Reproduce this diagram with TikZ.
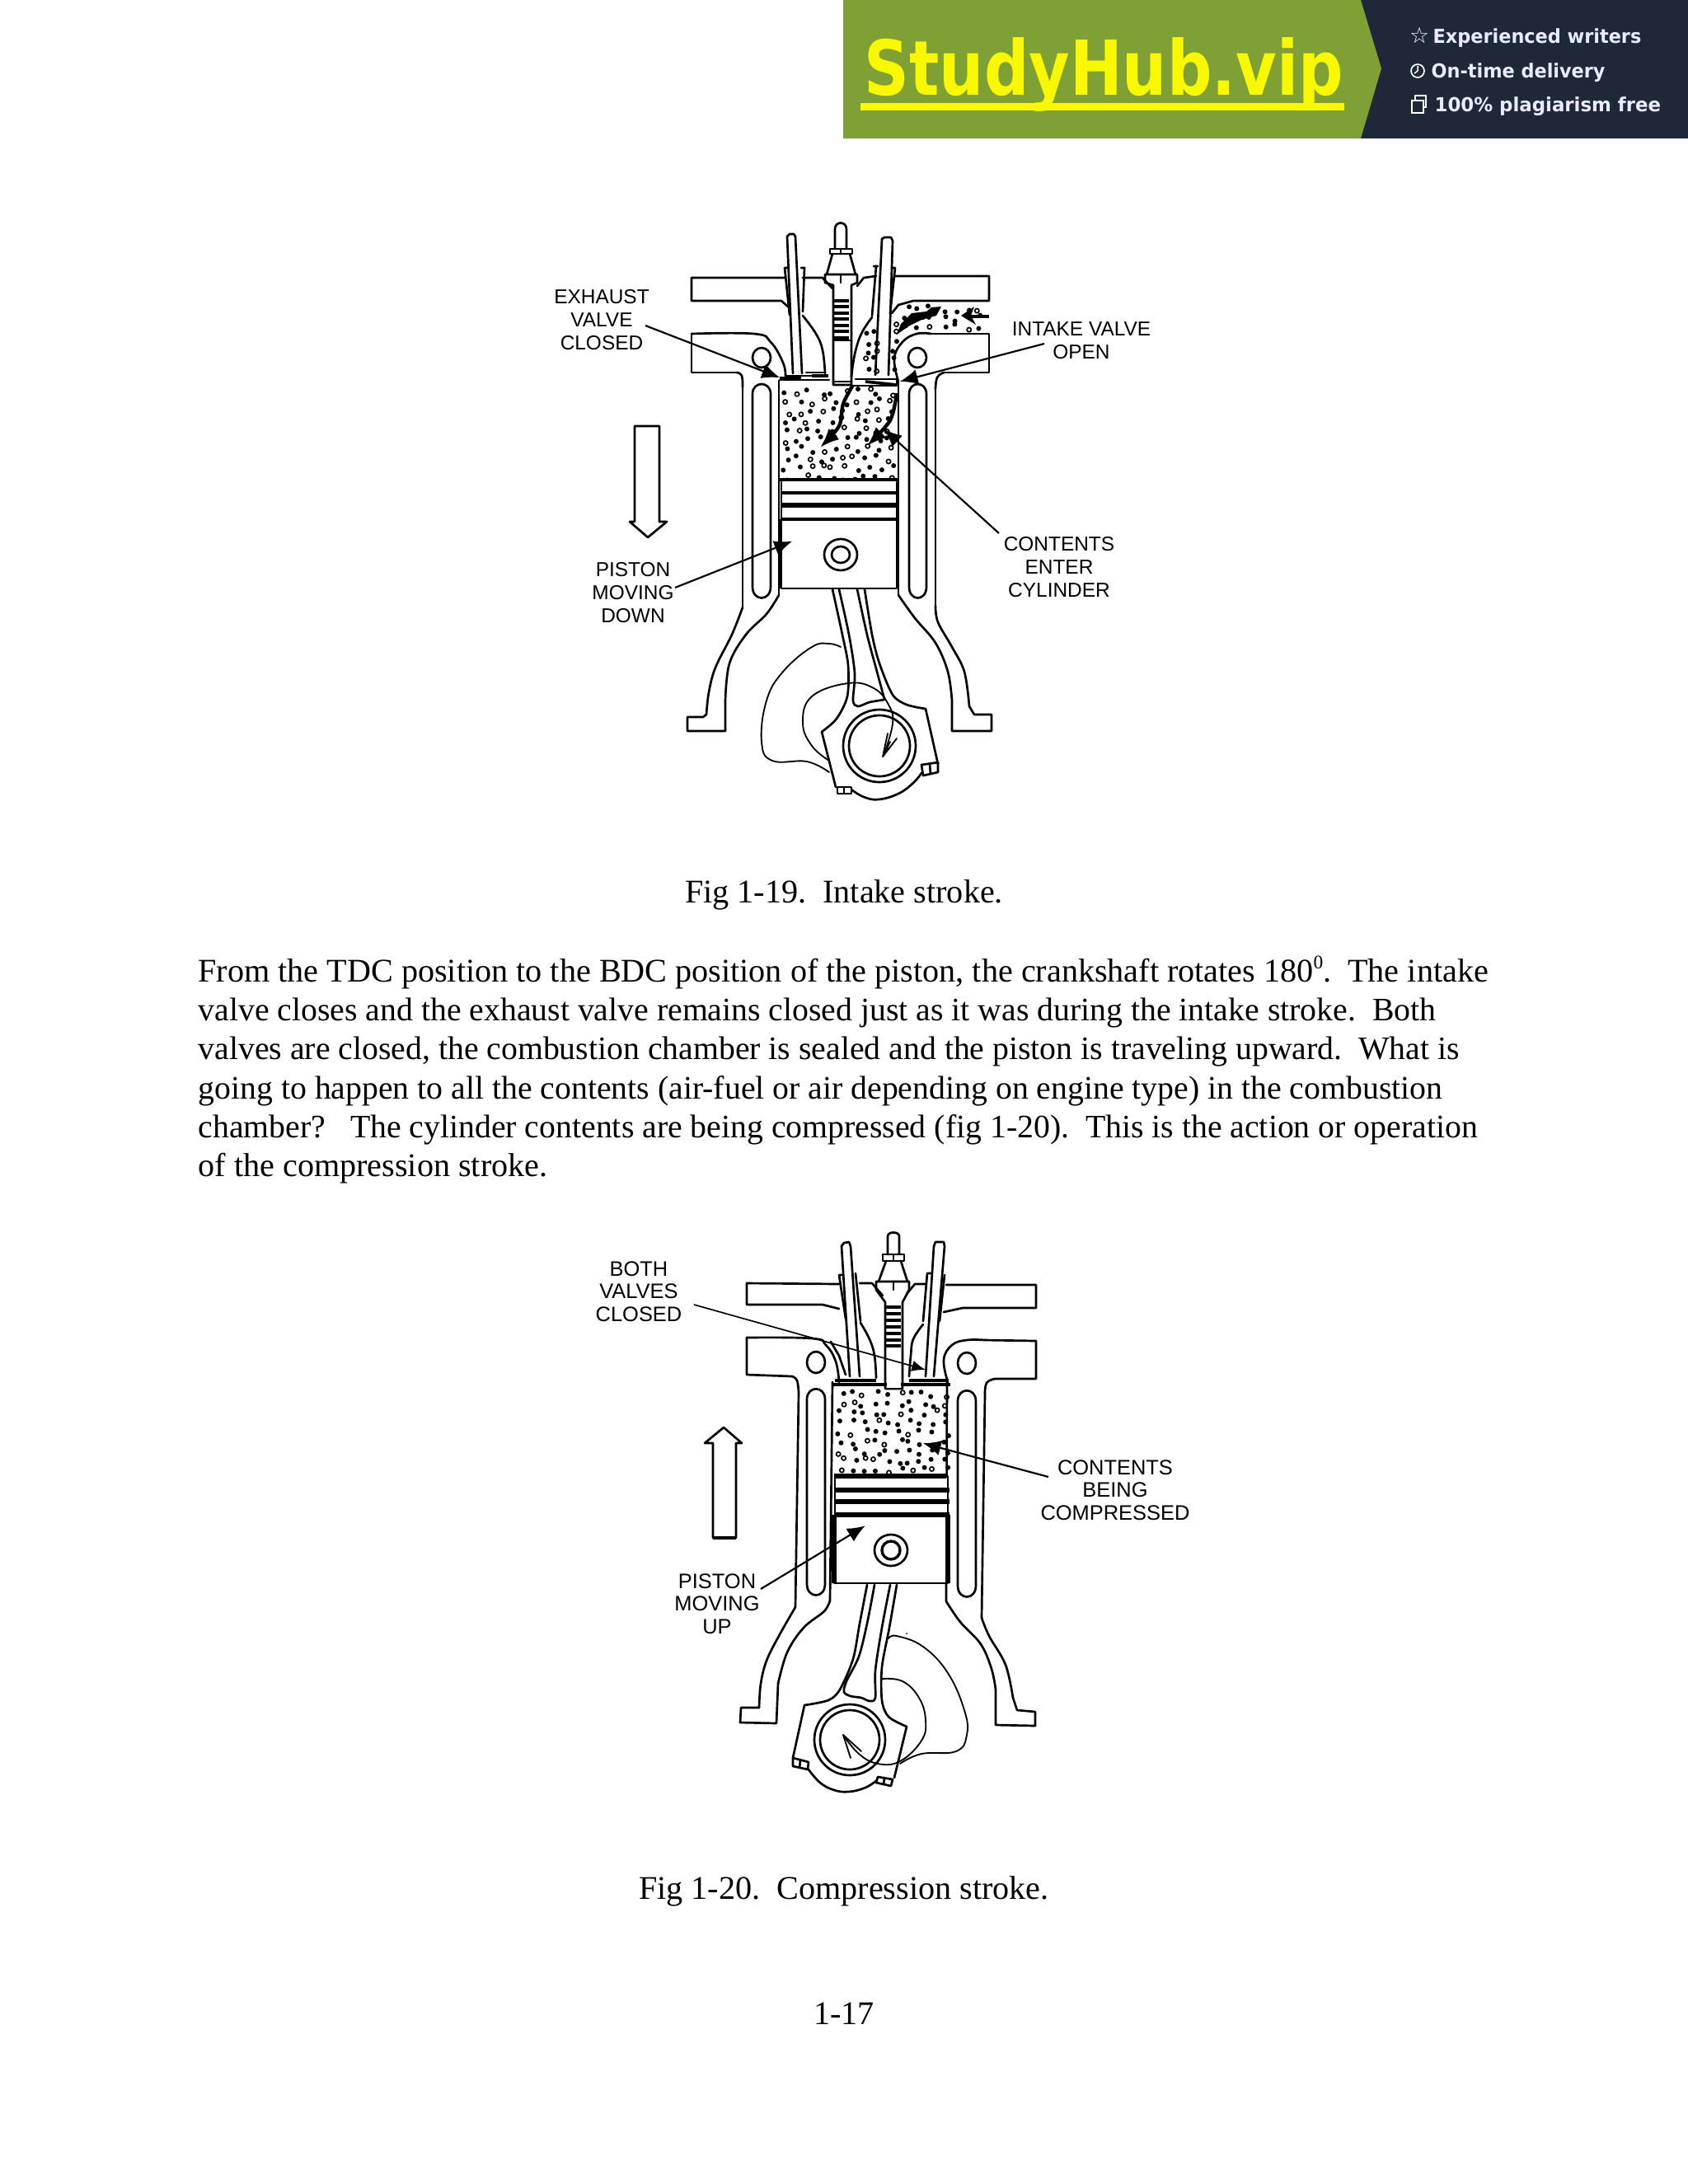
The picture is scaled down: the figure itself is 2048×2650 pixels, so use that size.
\documentclass[tikz,border=0pt]{standalone}
\usepackage{fontspec}
\usepackage{graphicx}
\setmainfont{Liberation Serif}
\newfontfamily\lblfont{Liberation Sans}
\newfontfamily\banfont{DejaVu Sans}
\usetikzlibrary{arrows.meta}
\tikzset{
 engl/.style={line width=.8pt,line join=round,line cap=round},
 engt/.style={line width=.55pt,line join=round,line cap=round},
 callout/.style={line width=.65pt,-{Latex[length=6.5pt,width=5.5pt]},shorten >=-1pt},
 smallcallout/.style={line width=.5pt,-{Latex[length=5pt,width=4pt]}},
 flow/.style={line width=1.3pt,-{Latex[length=7pt,width=5.5pt]}},
 lbl/.style={font=\lblfont\fontsize{7.6}{8.3}\selectfont,align=center,inner sep=0pt},
 lblb/.style={font=\lblfont\fontsize{7.3}{8.3}\selectfont,align=center,inner sep=0pt},
 bodyline/.style={anchor=base west,inner sep=0pt,font=\fontsize{11.88}{14}\selectfont},
 bodywide/.style={anchor=base west,inner sep=0pt,font=\fontsize{12}{14}\selectfont},
 captext/.style={anchor=base,inner sep=0pt,font=\fontsize{12}{14}\selectfont},
 bantxt/.style={anchor=base west,inner sep=0pt,text=white!92!blue,font=\banfont\bfseries\fontsize{7}{8}\selectfont},
}
\newcommand\dotfield[6]{\foreach \i in {1,...,#3}{\foreach \j in {1,...,#4}{%
 \pgfmathsetmacro\mydx{#1+(\i-1+rnd*.7)*#5}\pgfmathsetmacro\mydy{#2+(\j-1+rnd*.7)*#6}%
 \pgfmathparse{rnd}\ifdim\pgfmathresult pt<.3pt \draw[line width=.5pt] (\mydx,\mydy) circle[radius=2.6];\else \fill (\mydx,\mydy) circle[radius=3];\fi}}}
\begin{document}
\begin{tikzpicture}[x=0.29883pt,y=-0.29883pt]
\useasboundingbox (0,0) rectangle (2048,2650);
\fill[white] (0,0) rectangle (2048,2650);
\pgfmathsetseed{19}
%---------- banner
\fill[fill={rgb,255:red,30;green,40;blue,57}] (1640,0) rectangle (2048,168);
\fill[fill={rgb,255:red,127;green,160;blue,53}] (1023,0)--(1651,0)--(1676,83)--(1651,168)--(1023,168)--cycle;
\node[anchor=base west,inner sep=0pt,text={rgb,255:red,248;green,248;blue,0}] (brand) at (1048,115) {\resizebox{173.6pt}{20.9pt}{\banfont\bfseries StudyHub.vip}};
\fill[fill={rgb,255:red,248;green,248;blue,0}] (1044,125) rectangle (1631,134);
\node[bantxt] (w1) at (1738,52) {\resizebox{75.5pt}{\height}{Experienced writers}};
\node[bantxt] (w2) at (1736,94) {\resizebox{63pt}{\height}{On-time delivery}};
\node[bantxt] (w3) at (1740,135) {\resizebox{82pt}{\height}{100\% plagiarism free}};
\node[anchor=center,inner sep=0pt,text=white,font=\banfont\fontsize{8}{8}\selectfont] (star) at (1722,43) {☆};
\draw[white,line width=.5pt] (1720,86) circle[radius=8];
\draw[white,line width=.45pt] (1720,86)--(1720,80) (1720,86)--(1716,89);
\draw[white,line width=.45pt] (1713,122) rectangle (1727,137) (1717,122)--(1717,116)--(1730,116)--(1730,130)--(1727,130);
%========== FIG 1
% head
\draw[engl] (953,337)--(839,337)--(839,365)--(948,365)--(956,372);
\draw[engl] (974,337)--(998,337)--(1010,350);
\draw[engl] (1040,347)--(1048,337)--(1063,335);
\draw[engl] (1086,335)--(1200,335)--(1200,365)--(1108,365)--(1090,370)--(1082,380);
\draw[engl] (839,405)--(839,452)--(894,452);
\draw[engl] plot[smooth,tension=.7] coordinates {(894,452)(900,456)(901,470)};
\draw[engl] plot[smooth,tension=.7] coordinates {(839,405)(915,405)(935,415)(950,440)(953,456)};
\draw[engl] plot[smooth,tension=.7] coordinates {(1090,463)(1085,435)(1095,415)(1112,405)(1130,405)};
\draw[engl] (1130,405)--(1200,405)--(1200,452)--(1145,452);
\draw[engl] plot[smooth,tension=.7] coordinates {(1145,452)(1137,458)(1135,472)};
% walls
\draw[engl] (901,470)--(901,737);
\draw[engl] plot[smooth,tension=.6] coordinates {(901,737)(888,770)(868,810)(860,840)(857,867)};
\draw[engl] (857,867)--(853,870)--(834,870)--(834,887)--(880,887)--(880,850);
\draw[engl] plot[smooth,tension=.6] coordinates {(880,850)(885,805)(905,770)(930,745)(945,722)};
\draw[engl] (945,722)--(945,462);
\draw[engl] (1090,464)--(1090,722);
\draw[engl] plot[smooth,tension=.6] coordinates {(1090,722)(1110,750)(1135,780)(1150,815)(1155,850)};
\draw[engl] (1155,850)--(1155,887)--(1203,887)--(1203,867)--(1182,867)--(1176,857);
\draw[engl] plot[smooth,tension=.6] coordinates {(1176,857)(1170,815)(1155,785)(1138,755)(1135,735)};
\draw[engl] (1135,735)--(1135,472);
% slots
\draw[engl] (913,478)--(913,712) .. controls (913,730) and (935,730) .. (935,712)--(935,478) .. controls (935,462) and (913,462) .. (913,478)--cycle;
\draw[engl] (1103,478)--(1103,712) .. controls (1103,730) and (1124,730) .. (1124,712)--(1124,478) .. controls (1124,462) and (1103,462) .. (1103,478)--cycle;
% holes
\draw[engl] (924,434) circle[x radius=11,y radius=12];
\draw[engl] (1113,434) circle[x radius=11,y radius=12];
% charge
\dotfield{949}{472}{10}{10}{14}{11.5}
\dotfield{1097}{371}{7}{3}{14}{11}
\dotfield{1050}{400}{2}{5}{9}{11}
\dotfield{1083}{388}{1}{6}{8}{11}
% valves
\draw[engl] (953,456) -- (1001,456) (946,461)--(1006,461);
\draw[engl] (955,287)--(958,284)--(963,284)--(965,287)--(973,453);
\draw[engl] (955,287)--(962,453);
\draw[engl] (952,325)--(958,382) (952,325)--(955,325) (972,325)--(976,325)--(974,378);
\draw[engl] plot[smooth,tension=.7] coordinates {(974,383)(990,405)(998,425)(1001,453)};
\draw[engl] (978,452)--(1001,452);
\draw[line width=1.2pt] (946,459)--(972,459) (985,456)--(1005,456);
\draw[engl] (1070,290)--(1073,288)--(1081,288)--(1083,292)--(1078,455);
\draw[engl] (1070,290)--(1062,455);
\draw[engl] (1063,323)--(1058,383) (1086,325)--(1080,380) (1060,323)--(1065,323) (1086,325)--(1082,325);
\draw[engl] plot[smooth,tension=.7] coordinates {(1058,385)(1045,405)(1037,430)(1033,457)};
\draw[engl] (1038,460)--(1088,460) (1036,468)--(1088,468)--(1088,460);
\draw[line width=1.1pt] (1050,463)--(1088,467);
% spark plug
\draw[engl] (1013,302)--(1013,278) .. controls (1013,268) and (1027,268) .. (1027,278)--(1027,302);
\draw[engl] (1007,302) rectangle (1034,308) (1020,302)--(1020,308);
\draw[engl] (1010,308)--(1003,333) (1031,308)--(1038,333);
\draw[engl] (1001,333)--(1040,333)--(1040,343)--(1033,346)--(1033,467)--(1011,467)--(1011,346)--(1001,343)--cycle;
\draw[engl] (1020,333)--(1020,343);
\foreach \yy in {365,372,380,387,395,402,410}{\draw[line width=1pt] (1011,\yy)--(1030,\yy);}
\draw[engl] (1011,413)--(1033,413) (1011,463)--(1033,463);
% flow in the port
\fill (1142,372)--(1136,383)--(1118,388)--(1102,396)--(1088,406)--(1093,393)--(1106,380)--(1124,378)--(1130,373)--cycle;
\draw[line width=1.4pt] (1200,384)--(1172,384);
\fill (1166,383)--(1182,372)--(1178,383)--(1184,394)--cycle;
% piston
\fill[white] (950,584) rectangle (1086,712);
\draw[line width=1.2pt] (944,582)--(1090,582);
\draw[engl] (948,585)--(948,714)--(1088,714)--(1088,585);
\draw[line width=1.2pt] (948,598)--(1088,598);
\draw[line width=1.8pt] (948,613)--(1088,613);
\draw[line width=1.4pt] (948,630)--(1088,630);
\draw[line width=1.3pt] (946,630)--(946,714);
\draw[engl] (1020,673) circle[x radius=20,y radius=19];
\draw[engl] (1020,673) circle[x radius=11,y radius=10];
% rod
\draw[engl] plot[smooth,tension=.5] coordinates {(1010,715)(1022,770)(1029,807)(1028,845)(1015,872)(997,888)};
\draw[engl] plot[smooth,tension=.5] coordinates {(1018,715)(1030,770)(1037,817)(1035,850)(1041,857)(1055,852)(1073,849)};
\draw[engl] plot[smooth,tension=.5] coordinates {(1040,715)(1052,770)(1064,815)(1073,848)};
\draw[engl] plot[smooth,tension=.5] coordinates {(1049,715)(1058,770)(1067,805)(1083,843)(1100,855)(1123,860)};
% big end
\draw[engl] (997,888)--(1014,955);
\draw[engl] (1123,860)--(1138,927);
\draw[engl] (1016,955) rectangle (1033,963) (1024,955)--(1024,963);
\draw[engl] (1118,928)--(1138,925)--(1138,937)--(1120,941)--cycle (1128,927)--(1129,939);
\draw[engl] plot[smooth,tension=.7] coordinates {(1033,958)(1048,967)(1066,970)(1090,963)(1108,950)(1118,938)};
\draw[engl] (1067,905) circle[radius=44];
\draw[engl] (1067,905) circle[radius=37];
% crank web
\draw[engt] plot[smooth,tension=.7] coordinates {(1020,785)(1006,781)(985,785)(950,815)(930,850)(924,900)(937,923)(979,924)(1006,937)};
\draw[engt] plot[smooth,tension=.7] coordinates {(1006,923)(985,905)(974,877)(985,845)(1029,829)(1060,835)(1078,855)(1083,878)(1072,917)};
\draw[engt] (1071,918)--(1077,890) (1071,918)--(1088,896) (1071,918)--(1080,900);
% callouts fig 1
\node[lblb] (exv) at (730,388) {EXHAUST\\VALVE\\CLOSED};
\node[lblb] (inv) at (1312,413) {INTAKE VALVE\\OPEN};
\node[lblb] (cec) at (1285,688) {CONTENTS\\ENTER\\CYLINDER};
\node[lblb] (pmd) at (768,719) {PISTON\\MOVING\\DOWN};
\coordinate (exvs) at (783,395); \coordinate (exvt) at (943,457);
\coordinate (invs) at (1267,417); \coordinate (invt) at (1095,462);
\coordinate (cecs) at (1212,647); \coordinate (cect) at (1075,523);
\coordinate (pmds) at (819,713); \coordinate (pmdt) at (958,658);
\draw[callout] (exvs)--(exvt);
\draw[callout] (invs)--(invt);
\draw[callout] (cecs)--(cect);
\draw[callout] (pmds)--(pmdt);
\draw[flow] plot[smooth] coordinates {(1035,467)(1023,490)(1018,517)(995,543)};
\draw[flow] plot[smooth] coordinates {(1088,477)(1080,510)(1052,541)};
% down arrow
\draw[engl] (770,517)--(800,517)--(800,633)--(809,633)--(786,652)--(764,633)--(770,633)--cycle;
%---------- text
\node[captext] (cap1) at (1024,1095) {Fig 1-19.\ \ Intake stroke.};
\node[bodywide] (p1) at (240,1191) {From the TDC position to the BDC position of the piston, the crankshaft rotates 180\raisebox{4.5pt}{\fontsize{7}{8}\selectfont 0}.\ \ The intake};
\node[bodyline] (p2) at (240,1238) {valve closes and the exhaust valve remains closed just as it was during the intake stroke.\ \ Both};
\node[bodyline] (p3) at (240,1285) {valves are closed, the combustion chamber is sealed and the piston is traveling upward.\ \ What is};
\node[bodyline] (p4) at (240,1333) {going to happen to all the contents (air-fuel or air depending on engine type) in the combustion};
\node[bodyline] (p5) at (240,1380) {chamber?\ \ \ The cylinder contents are being compressed (fig 1-20).\ \ This is the action or operation};
\node[bodywide] (p6) at (240,1427) {of the compression stroke.};
%========== FIG 2
\draw[engl] (1018,1558)--(906,1557)--(906,1583)--(998,1583)--(1018,1588);
\draw[engl] (1043,1557)--(1058,1557)--(1071,1572);
\draw[engl] (1100,1570)--(1110,1558)--(1123,1558);
\draw[engl] (1148,1559)--(1257,1559)--(1257,1587)--(1168,1587)--(1145,1592);
\draw[engl] (906,1623)--(906,1668)--(961,1670);
\draw[engl] plot[smooth,tension=.7] coordinates {(961,1670)(967,1675)(969,1690)};
\draw[engl] plot[smooth,tension=.7] coordinates {(906,1623)(985,1624)(1002,1632)(1014,1652)(1018,1677)};
\draw[engl] plot[smooth,tension=.7] coordinates {(1150,1677)(1145,1650)(1155,1632)(1173,1626)(1195,1626)};
\draw[engl] (1195,1626)--(1257,1627)--(1257,1673)--(1207,1673);
\draw[engl] plot[smooth,tension=.7] coordinates {(1207,1673)(1197,1678)(1195,1692)};
% walls
\draw[engl] (969,1690)--(965,1950);
\draw[engl] plot[smooth,tension=.6] coordinates {(965,1950)(945,1985)(930,2015)(923,2043)(921,2072)};
\draw[engl] (921,2072)--(899,2072)--(898,2090)--(942,2091)--(944,2043);
\draw[engl] plot[smooth,tension=.6] coordinates {(944,2043)(955,2005)(975,1975)(1000,1955)(1007,1942)};
\draw[engl] (1007,1942)--(1010,1677);
\draw[engl] (1149,1677)--(1148,1943);
\draw[engl] plot[smooth,tension=.6] coordinates {(1148,1943)(1165,1968)(1190,1995)(1203,2025)(1208,2050)};
\draw[engl] (1208,2050)--(1208,2093)--(1256,2094)--(1256,2077)--(1234,2075)--(1229,2060);
\draw[engl] plot[smooth,tension=.6] coordinates {(1229,2060)(1220,2020)(1200,1985)(1191,1963)};
\draw[engl] (1191,1963)--(1195,1692);
% slots
\draw[engl] (979,1698)--(979,1922) .. controls (979,1940) and (1001,1940) .. (1001,1922)--(1001,1698) .. controls (1001,1681) and (979,1681) .. (979,1698)--cycle;
\draw[engl] (1162,1700)--(1162,1924) .. controls (1162,1942) and (1184,1942) .. (1184,1924)--(1184,1700) .. controls (1184,1683) and (1162,1683) .. (1162,1700)--cycle;
\draw[engl] (990,1653) circle[x radius=11,y radius=13];
\draw[engl] (1173,1654) circle[x radius=11,y radius=13];
% charge
\dotfield{1016}{1688}{10}{9}{14}{11.5}
% valves
\draw[engl] (1021,1512)--(1024,1508)--(1030,1507)--(1032,1512)--(1043,1670);
\draw[engl] (1021,1512)--(1031,1670);
\draw[engl] (1018,1547)--(1026,1600) (1018,1547)--(1021,1547) (1038,1545)--(1044,1603);
\draw[engl] plot[smooth,tension=.7] coordinates {(1044,1605)(1055,1625)(1061,1645)(1063,1672)};
\draw[engl] (1008,1628)--(1018,1645)--(1026,1668);
\draw[line width=1.2pt] (1013,1675)--(1063,1675);
\draw[engl] (1133,1512)--(1135,1507)--(1145,1507)--(1146,1512)--(1133,1670);
\draw[engl] (1133,1512)--(1123,1670);
\draw[engl] (1125,1545)--(1120,1603) (1146,1547)--(1140,1603) (1125,1545)--(1129,1545);
\draw[engl] plot[smooth,tension=.7] coordinates {(1120,1607)(1108,1625)(1105,1645)(1103,1670)};
\draw[line width=1.2pt] (1103,1675)--(1151,1675);
\draw[line width=1pt] (1011,1680)--(1153,1680);
% plug
\draw[engl] (1077,1522)--(1077,1500) .. controls (1077,1494) and (1091,1494) .. (1091,1500)--(1091,1522);
\draw[engl] (1071,1522) rectangle (1097,1530) (1084,1522)--(1084,1530);
\draw[engl] (1075,1530)--(1066,1555) (1093,1530)--(1101,1555);
\draw[engl] (1063,1555)--(1103,1555)--(1103,1565)--(1095,1580)--(1095,1685)--(1074,1685)--(1074,1580)--(1063,1565)--cycle;
\draw[engl] (1084,1555)--(1084,1565);
\foreach \yy in {1586,1594,1602,1610,1618,1626,1633}{\draw[line width=1pt] (1074,\yy)--(1093,\yy);}
\fill[white] (1076,1667) rectangle (1093,1684);
% piston
\fill[white] (1012,1793) rectangle (1150,1920);
\draw[line width=1.6pt] (1012,1791)--(1148,1791);
\draw[line width=1.6pt] (1012,1808)--(1152,1808);
\draw[line width=1.8pt] (1012,1822)--(1152,1822);
\draw[line width=2pt] (1012,1838)--(1152,1838);
\draw[engt] (1013,1791)--(1013,1838) (1150,1791)--(1150,1838);
\draw[line width=1.6pt] (1012,1838)--(1012,1921);
\draw[line width=1.6pt] (1150,1838)--(1150,1921);
\draw[engl] (1012,1921)--(1150,1921);
\draw[engl] (1081,1881) circle[x radius=20,y radius=19];
\draw[line width=1pt] (1081,1881) circle[x radius=11,y radius=11];
% rod
\draw[engl] plot[smooth,tension=.5] coordinates {(1052,1923)(1043,1970)(1035,2013)(1019,2050)(1005,2063)(976,2069)};
\draw[engl] plot[smooth,tension=.5] coordinates {(1061,1923)(1052,1970)(1042,2010)(1027,2040)(1024,2053)(1032,2058)(1045,2060)(1055,2064)(1062,2060)(1062,2027)(1070,1975)(1080,1923)};
\draw[engl] plot[smooth,tension=.5] coordinates {(1088,1923)(1079,1975)(1070,2023)(1070,2063)(1078,2083)(1100,2095)};
% big end
\draw[engl] (976,2069)--(962,2133);
\draw[engl] (1100,2095)--(1085,2157);
\draw[engl] (962,2133)--(981,2138)--(980,2147)--(962,2143)--cycle (971,2136)--(970,2145);
\draw[engl] (1065,2156)--(1083,2159)--(1081,2167)--(1063,2163)--cycle (1073,2158)--(1072,2165);
\draw[engl] plot[smooth,tension=.7] coordinates {(981,2147)(995,2163)(1012,2172)(1030,2174)(1050,2169)(1064,2160)};
\draw[engl] (1031,2111) circle[radius=43];
\draw[engl] (1031,2111) circle[radius=36];
% crank web
\draw[engt] plot[smooth,tension=.7] coordinates {(1078,1988)(1088,1985)(1120,1998)(1150,2030)(1170,2075)(1173,2105)(1160,2125)(1118,2128)(1092,2140)};
\draw[engt] plot[smooth,tension=.7] coordinates {(1070,2037)(1095,2040)(1115,2060)(1123,2087)(1118,2112)(1092,2137)(1065,2140)(1042,2128)(1023,2105)};
\draw[engt] (1023,2105)--(1045,2125) (1023,2105)--(1032,2133);
\fill (1100,1982) circle[radius=1];
% callouts fig 2
\node[lbl] (bvc) at (775,1567) {BOTH\\VALVES\\CLOSED};
\node[lbl] (cbc) at (1353,1808) {CONTENTS\\BEING\\COMPRESSED};
\node[lbl] (pmu) at (870,1946) {PISTON\\MOVING\\UP};
\coordinate (bvcs) at (842,1583); \coordinate (bvct) at (1123,1662);
\coordinate (cbcs) at (1272,1792); \coordinate (cbct) at (1123,1752);
\coordinate (pmus) at (923,1928); \coordinate (pmut) at (1047,1853);
\draw[smallcallout] (bvcs)--(bvct);
\draw[callout] (cbcs)--(cbct);
\draw[callout] (pmus)--(pmut);
% up arrow
\draw[engl] (865,1866)--(893,1866)--(893,1751)--(900,1751)--(878,1732)--(855,1751)--(865,1751)--cycle;
\draw[line width=1.2pt] (865,1866)--(893,1866);
% captions
\node[captext] (cap2) at (1024,2304) {Fig 1-20.\ \ Compression stroke.};
\node[captext] (pageno) at (1024,2456) {1-17};
\end{tikzpicture}
\end{document}
